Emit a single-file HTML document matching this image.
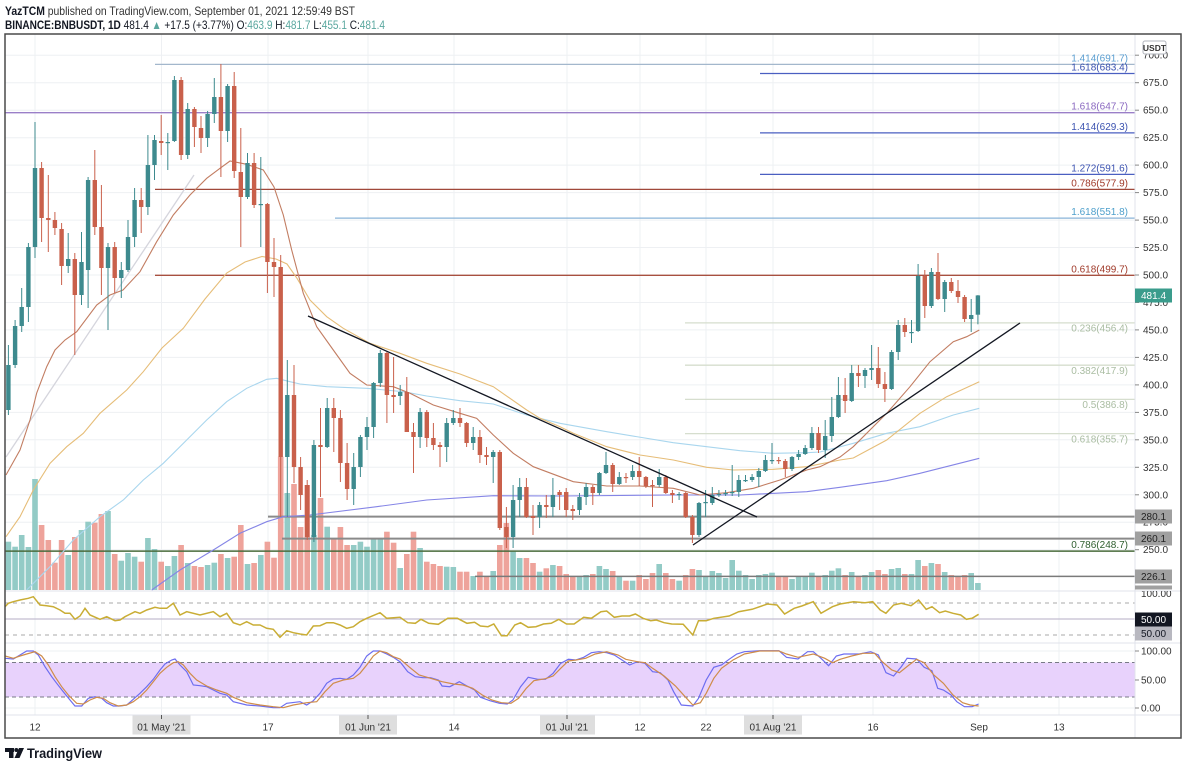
<!DOCTYPE html>
<html><head><meta charset="utf-8"><style>
html,body{margin:0;padding:0;background:#fff;width:1186px;height:768px;overflow:hidden}
svg{display:block}
</style></head><body>
<svg id="root" width="1186" height="768" viewBox="0 0 1186 768" xmlns="http://www.w3.org/2000/svg" font-family="'Liberation Sans', 'DejaVu Sans', sans-serif">
<defs>
<clipPath id="mp"><rect x="5" y="34" width="1130" height="557"/></clipPath>
<clipPath id="rp"><rect x="5" y="591" width="1130" height="52"/></clipPath>
<clipPath id="sp"><rect x="5" y="643" width="1130" height="72"/></clipPath>
<clipPath id="ax"><rect x="1135" y="591" width="46" height="124"/></clipPath>
</defs>
<rect width="1186" height="768" fill="#fff"/>

<!-- header -->
<text x="5" y="15" font-size="12" fill="#333" textLength="350" lengthAdjust="spacingAndGlyphs"><tspan font-weight="bold" fill="#131722">YazTCM</tspan> published on TradingView.com, September 01, 2021 12:59:49 BST</text>
<text x="5" y="29" font-size="12" fill="#131722" textLength="380" lengthAdjust="spacingAndGlyphs"><tspan font-weight="bold">BINANCE:BNBUSDT, 1D</tspan> 481.4 <tspan fill="#5aa79f">▲</tspan> +17.5 (+3.77%) O:<tspan fill="#5aa79f">463.9</tspan> H:<tspan fill="#5aa79f">481.7</tspan> L:<tspan fill="#5aa79f">455.1</tspan> C:<tspan fill="#5aa79f">481.4</tspan></text>

<!-- grid -->
<g id="grid" stroke="#eef0f3" stroke-width="1"></g>

<!-- main pane -->
<g clip-path="url(#mp)">
  <g id="vol"></g>
  <g stroke-width="1.3">
    <line x1="155" y1="64.4" x2="1135" y2="64.4" stroke="#a3b7cc"/>
    <line x1="760" y1="73.5" x2="1135" y2="73.5" stroke="#4a5fc1"/>
    <line x1="5" y1="112.7" x2="1135" y2="112.7" stroke="#9a7fc8"/>
    <line x1="760" y1="132.9" x2="1135" y2="132.9" stroke="#4a5fc1"/>
    <line x1="760" y1="174.4" x2="1135" y2="174.4" stroke="#4a5fc1"/>
    <line x1="155" y1="189.4" x2="1135" y2="189.4" stroke="#a0483a"/>
    <line x1="335" y1="218.1" x2="1135" y2="218.1" stroke="#8ab4d8"/>
    <line x1="155" y1="275.3" x2="1135" y2="275.3" stroke="#a85040"/>
    <line x1="685" y1="322.9" x2="1135" y2="322.9" stroke="#d6dece"/>
    <line x1="685" y1="365.2" x2="1135" y2="365.2" stroke="#d6dece"/>
    <line x1="685" y1="399.4" x2="1135" y2="399.4" stroke="#d6dece"/>
    <line x1="685" y1="433.6" x2="1135" y2="433.6" stroke="#d6dece"/>
    <line x1="268" y1="516.6" x2="1135" y2="516.6" stroke="#8a8a8a" stroke-width="2"/>
    <line x1="282" y1="538.6" x2="1135" y2="538.6" stroke="#8a8a8a" stroke-width="2"/>
    <line x1="5" y1="551.1" x2="1135" y2="551.1" stroke="#4a6b3c" stroke-width="1.5"/>
    <line x1="475" y1="576.4" x2="1135" y2="576.4" stroke="#7a7a7a" stroke-width="1.5"/>
  </g>
  <g font-size="10" text-anchor="end">
    <text x="1128" y="61.4" fill="#5b9ed0">1.414(691.7)</text>
    <text x="1128" y="70.5" fill="#3b52b0">1.618(683.4)</text>
    <text x="1128" y="109.7" fill="#8a68c0">1.618(647.7)</text>
    <text x="1128" y="129.9" fill="#3b52b0">1.414(629.3)</text>
    <text x="1128" y="171.4" fill="#3b52b0">1.272(591.6)</text>
    <text x="1128" y="186.4" fill="#a03a2a">0.786(577.9)</text>
    <text x="1128" y="215.1" fill="#4fa0cc">1.618(551.8)</text>
    <text x="1128" y="272.3" fill="#a03a2a">0.618(499.7)</text>
    <text x="1128" y="331.5" fill="#aabda2">0.236(456.4)</text>
    <text x="1128" y="374" fill="#aabda2">0.382(417.9)</text>
    <text x="1128" y="408" fill="#aabda2">0.5(386.8)</text>
    <text x="1128" y="442.5" fill="#aabda2">0.618(355.7)</text>
    <text x="1128" y="548.1" fill="#2e5e2e">0.786(248.7)</text>
  </g>
  <g id="mas" fill="none"></g>
  <g id="wk"></g>
  <g id="bd"></g>
  <g stroke="#131722" stroke-width="1.3">
    <line x1="308" y1="316" x2="757" y2="517"/>
    <line x1="693" y1="545" x2="1020" y2="323"/>
  </g>
</g>

<!-- RSI pane -->
<g clip-path="url(#rp)">
  <line x1="5" y1="603" x2="1135" y2="603" stroke="#a9a9a9" stroke-dasharray="4 4"/>
  <line x1="5" y1="635" x2="1135" y2="635" stroke="#a9a9a9" stroke-dasharray="4 4"/>
  <line x1="5" y1="619" x2="1135" y2="619" stroke="#b6aec6"/>
  <polyline id="rsi" fill="none" stroke="#c9ad35" stroke-width="1.5"/>
</g>

<!-- Stoch RSI pane -->
<g clip-path="url(#sp)">
  <rect x="5" y="662.5" width="1130" height="34.5" fill="#e8d2fc"/>
  <line x1="5" y1="662.5" x2="1135" y2="662.5" stroke="#787b86" stroke-dasharray="4 3"/>
  <line x1="5" y1="697" x2="1135" y2="697" stroke="#787b86" stroke-dasharray="4 3"/>
  <polyline id="sk" fill="none" stroke="#6d6df0" stroke-width="1.2"/>
  <polyline id="sd" fill="none" stroke="#cf8c4a" stroke-width="1.2"/>
</g>

<!-- separators -->
<g stroke="#e0e3eb" stroke-width="1">
  <line x1="5" y1="591" x2="1181" y2="591"/>
  <line x1="5" y1="643" x2="1181" y2="643"/>
  <line x1="5" y1="715" x2="1181" y2="715"/>
  <line x1="1135" y1="34" x2="1135" y2="738"/>
</g>

<!-- price axis -->
<g font-size="10" fill="#333">
  <g stroke="#888">
    <line x1="1135" y1="55.2" x2="1139" y2="55.2"/><line x1="1135" y1="82.7" x2="1139" y2="82.7"/>
    <line x1="1135" y1="110.2" x2="1139" y2="110.2"/><line x1="1135" y1="137.7" x2="1139" y2="137.7"/>
    <line x1="1135" y1="165.1" x2="1139" y2="165.1"/><line x1="1135" y1="192.6" x2="1139" y2="192.6"/>
    <line x1="1135" y1="220.1" x2="1139" y2="220.1"/><line x1="1135" y1="247.5" x2="1139" y2="247.5"/>
    <line x1="1135" y1="275" x2="1139" y2="275"/><line x1="1135" y1="302.5" x2="1139" y2="302.5"/>
    <line x1="1135" y1="329.9" x2="1139" y2="329.9"/><line x1="1135" y1="357.4" x2="1139" y2="357.4"/>
    <line x1="1135" y1="384.9" x2="1139" y2="384.9"/><line x1="1135" y1="412.4" x2="1139" y2="412.4"/>
    <line x1="1135" y1="439.8" x2="1139" y2="439.8"/><line x1="1135" y1="467.3" x2="1139" y2="467.3"/>
    <line x1="1135" y1="494.8" x2="1139" y2="494.8"/><line x1="1135" y1="522.2" x2="1139" y2="522.2"/>
    <line x1="1135" y1="549.7" x2="1139" y2="549.7"/>
  </g>
  <text x="1143" y="58.7">700.0</text>
  <text x="1143" y="86.2">675.0</text>
  <text x="1143" y="113.7">650.0</text>
  <text x="1143" y="141.2">625.0</text>
  <text x="1143" y="168.6">600.0</text>
  <text x="1143" y="196.1">575.0</text>
  <text x="1143" y="223.6">550.0</text>
  <text x="1143" y="251">525.0</text>
  <text x="1143" y="278.5">500.0</text>
  <text x="1143" y="306">475.0</text>
  <text x="1143" y="333.4">450.0</text>
  <text x="1143" y="360.9">425.0</text>
  <text x="1143" y="388.4">400.0</text>
  <text x="1143" y="415.9">375.0</text>
  <text x="1143" y="443.3">350.0</text>
  <text x="1143" y="470.8">325.0</text>
  <text x="1143" y="498.3">300.0</text>
  <text x="1143" y="525.7">275.0</text>
  <text x="1143" y="553.2">250.0</text>
</g>
<g font-size="10">
  <rect x="1143" y="41" width="23" height="13" rx="2" fill="#fff" stroke="#b2b5be"/>
  <text x="1154.5" y="51" font-size="8.5" font-weight="bold" fill="#333" text-anchor="middle">USDT</text>
  <rect x="1135" y="288.5" width="37" height="14" fill="#3a9c8c"/>
  <text x="1141" y="299" fill="#fff">481.4</text>
  <rect x="1135" y="509.5" width="37" height="14" fill="#a0a0a0"/>
  <text x="1141" y="520" fill="#222">280.1</text>
  <rect x="1135" y="531.5" width="37" height="14" fill="#a0a0a0"/>
  <text x="1141" y="542" fill="#222">260.1</text>
  <rect x="1135" y="569.5" width="37" height="14" fill="#a0a0a0"/>
  <text x="1141" y="580" fill="#222">226.1</text>
  <rect x="1135" y="585.5" width="37" height="4" fill="#a0a0a0"/>
  <g clip-path="url(#ax)">
    <text x="1141" y="597" fill="#333">100.00</text>
  </g>
  <line x1="1135" y1="619.5" x2="1139" y2="619.5" stroke="#555"/>
  <rect x="1135" y="612.5" width="37" height="14" fill="#131722"/>
  <text x="1141" y="623" fill="#fff">50.00</text>
  <rect x="1135" y="626.5" width="37" height="14" fill="#b8b8c0"/>
  <text x="1141" y="637" fill="#131722">50.00</text>
  <line x1="1135" y1="651" x2="1139" y2="651" stroke="#888"/>
  <text x="1141" y="654.5" fill="#333">100.00</text>
  <line x1="1135" y1="680" x2="1139" y2="680" stroke="#888"/>
  <text x="1141" y="683.5" fill="#333">50.00</text>
  <line x1="1135" y1="708" x2="1139" y2="708" stroke="#888"/>
  <text x="1141" y="711.5" fill="#333">0.00</text>
</g>

<!-- time axis -->
<g font-size="10" fill="#333" text-anchor="middle">
  <rect x="132.5" y="715.5" width="58" height="19" fill="#dedede"/>
  <rect x="339" y="715.5" width="58" height="19" fill="#dedede"/>
  <rect x="540" y="715.5" width="55" height="19" fill="#dedede"/>
  <rect x="744" y="715.5" width="58" height="19" fill="#dedede"/>
  <g stroke="#555"><line x1="161.5" y1="715" x2="161.5" y2="719"/><line x1="368" y1="715" x2="368" y2="719"/><line x1="567" y1="715" x2="567" y2="719"/><line x1="773" y1="715" x2="773" y2="719"/></g>
  <text x="35" y="730.5">12</text>
  <text x="161.5" y="730.5">01 May '21</text>
  <text x="268" y="730.5">17</text>
  <text x="368" y="730.5">01 Jun '21</text>
  <text x="454" y="730.5">14</text>
  <text x="567" y="730.5">01 Jul '21</text>
  <text x="640" y="730.5">12</text>
  <text x="706" y="730.5">22</text>
  <text x="773" y="730.5">01 Aug '21</text>
  <text x="873" y="730.5">16</text>
  <text x="979" y="730.5">Sep</text>
  <text x="1059" y="730.5">13</text>
</g>

<!-- frame -->
<rect x="5" y="34" width="1176" height="704" fill="none" stroke="#4a4a4a" stroke-width="1.5"/>

<!-- logo -->
<g fill="#131722">
  <rect x="5" y="748" width="9" height="4"/>
  <rect x="9" y="748" width="4.5" height="10"/>
  <circle cx="16.3" cy="750" r="2"/>
  <polygon points="19,748 24,748 19.5,758 14.5,758"/>
  <text x="27" y="758" font-size="14" font-weight="bold" textLength="75" lengthAdjust="spacingAndGlyphs">TradingView</text>
</g>
</svg>

<script>
(function(){
var NS='http://www.w3.org/2000/svg';
function el(parent,tag,attrs){var e=document.createElementNS(NS,tag);for(var k in attrs){e.setAttribute(k,attrs[k]);}parent.appendChild(e);return e;}
var Y=function(p){return 275+(500-p)*1.0988;};
var X=function(d){return 35+6.64*d;};
var C=[
[410,365,345,415],[365,326,320,368],[326,307,288,332],[307,247,243,322],[247,168,122,258],
[168,218,162,242],[218,220,175,252],[220,228,212,235],[229,266,223,285],[266,259,233,273],
[259,295,253,355],[295,262,232,305],[270,180,177,308],[180,227,150,235],[227,268,185,295],
[268,247,243,330],[247,278,242,293],[278,270,262,298],[270,237,220,272],[237,200,188,247],
[200,207,188,233],[207,165,135,215],[165,140,135,180],[141,143,115,155],[143,142,133,170],
[141,80,76,142],[80,155,77,160],[155,109,103,159],[109,127,107,147],[128,138,116,153],
[138,114,111,147],[114,97,78,123],[97,131,64,177],[131,86,84,142],[86,171,72,178],
[172,197,128,247],[197,163,153,199],[163,205,153,208],[205,204,157,247],[204,262,203,293],
[262,267,238,297],[267,457,255,517],[457,395,360,517],[395,467,365,483],[467,495,457,510],
[485,537,480,540],[537,445,440,542],[445,447,408,497],[447,408,398,448],[408,418,398,452],
[418,463,410,482],[463,489,443,500],[489,467,453,505],[467,437,435,477],[437,427,417,450],
[427,383,382,438],[383,353,350,387],[353,395,352,423],[395,397,357,413],[396,392,385,405],
[392,432,377,432],[432,437,423,473],[437,412,408,448],[412,438,410,447],[438,445,423,450],
[445,447,442,467],[447,423,418,462],[423,418,410,425],[418,423,408,427],[423,443,422,447],
[443,437,427,450],[437,455,430,463],[455,457,447,465],[457,452,450,483],[452,528,450,530],
[527,537,507,548],[537,500,485,548],[500,487,478,517],[487,517,478,518],[516,518,505,535],
[517,505,502,528],[505,507,495,518],[507,495,478,517],[492,495,490,510],[492,510,488,517],
[509,511,505,520],[510,497,493,515],[497,487,483,505],[487,493,485,505],[493,473,472,495],
[473,465,452,474],[465,484,463,492],[484,477,472,485],[477,478,473,483],[477,471,465,480],
[471,477,457,486],[477,486,476,488],[485,486,480,507],[485,477,469,487],[477,493,475,494],
[493,495,490,503],[495,494,492,500],[493,517,492,518],[517,535,515,543],[535,503,502,537],
[503,502,490,517],[503,495,487,505],[495,494,490,497],[494,493,490,496],[493,492,465,496],
[492,480,475,497],[480,480,475,482],[480,477,474,482],[477,471,468,487],[471,460,455,472],
[460,460,443,464],[460,461,457,464],[461,469,459,477],[469,457,456,471],[457,454,450,460],
[454,448,445,455],[448,433,427,450],[433,450,427,453],[450,436,420,458],[436,417,397,442],
[417,395,377,418],[395,401,378,413],[401,373,365,402],[373,376,365,387],[376,370,368,388],
[370,368,345,380],[368,384,347,388],[384,389,372,402],[389,352,350,390],[352,325,320,360],
[325,332,318,337],[332,332,320,343],[331,276,264,332],[276,306,270,318],[306,272,268,308],
[272,299,253,300],[299,282,280,312],[282,291,278,293],[291,297,280,303],[297,319,295,322],
[319,315,299,332],[314.7,295.4,295.1,324.3]];
var V=[541.7,546.7,535,547,479,525,540,562.7,540,555,537,530,521.7,522.7,514,511,554,560.7,553,556.7,561.7,538,549,561.7,566,556,545,563,566,567,565,562.7,554,558,556.7,525,564,563,555,541.7,557.7,456.7,493,484,527,485,535,498,526.7,539,527,545,545,541.7,546.7,538,538,531.7,542.7,568,554,531.7,548,561.7,564,566,566.7,567,571.7,571.7,576,571.7,576,571,545,523,551.7,558,558,563,571.7,568.3,565,566,574,576.7,577,575,574,566,569,571,576.7,580.7,580.7,575,579,573,564,573,579,580.7,575,569,570,576.7,571,573,578,560,570.7,575,579,575,574,572.7,577,577,579,576.7,576,572.7,576,575,570.7,568.3,575,572,577,575,572,570,574,569,568,574,574,560,566,563,564,572,575,576,575,573,583];
var gv=document.getElementById('vol'),gw=document.getElementById('wk'),gb=document.getElementById('bd');
C.forEach(function(c,i){var d=i-4,x=X(d),o=c[0],cl=c[1],h=c[2],l=c[3],up=cl<=o;
 var col=up?'#3d8a8e':'#c9604b';
 var vt=V[i]||580;
 el(gv,'rect',{x:(x-2.8).toFixed(1),y:vt,width:5.6,height:(590-vt).toFixed(1),fill:(up?'#93cbc6':'#eea39b')});
 el(gw,'line',{x1:x.toFixed(1),x2:x.toFixed(1),y1:h,y2:l,stroke:col,'stroke-width':1});
 el(gb,'rect',{x:(x-2.2).toFixed(1),y:Math.min(o,cl),width:4.4,height:Math.max(Math.abs(o-cl),1.2),fill:col});
});
function pts(a){return a.map(function(p){return p[0]+','+p[1];}).join(' ');}
var MA20=[[6,475],[20,450],[30,420],[36.7,393],[46.7,366.7],[55,350],[65,340],[76.7,331.7],[96.7,305],[110,295],[123,290],[140,271.7],[156.7,241.7],[173.3,215],[190,195],[206.7,178.3],[220,168.3],[230,161],[246.7,164.3],[263.3,170],[274,187],[283.3,215],[291.7,250],[303.3,293.3],[316.7,326.7],[333.3,350],[350,373.3],[366.7,385],[393.3,386.7],[410,393.3],[433.3,405],[460,413.3],[476.7,418.3],[493.3,435],[513.3,453.3],[533.3,466.7],[560,476.7],[573.3,481.7],[606.7,486],[640,486],[673.3,488.3],[700,495],[726.7,492.7],[753.3,488.3],[780,480],[806.7,470],[820,466.7],[840,457],[853.3,446.7],[886.7,413.3],[910,386.7],[930,361.7],[953.3,341.7],[966.7,336.7],[979.3,330]];
var MA50=[[6,536.7],[20,516.7],[33.3,490],[50,463.3],[66.7,446.7],[83.3,433.3],[100,413.3],[126.7,390],[143.3,371.7],[162,348],[183.3,328.3],[205,299],[226.7,273],[245,262],[262,256.5],[276,259],[287,264],[297,278.3],[310,300],[326.7,316.7],[343.3,328.3],[370,343.3],[400,353.3],[426.7,363.3],[460,374],[493.3,386.7],[526.7,410],[540,418.3],[560,426.7],[573.3,433.3],[606.7,446.7],[640,455],[673.3,460],[706.7,467.3],[733.3,470],[773.3,469.3],[806.7,466.7],[840,460],[853.3,458],[886.7,440],[920,413.3],[946.7,396.7],[979.3,381.7]];
var MA100=[[26.7,590],[50,566.7],[73.3,540],[100,516.7],[123.3,500],[143.3,480],[163.3,463.3],[186.7,440],[206.7,420],[226.7,401.7],[246.7,388.3],[266.7,379.3],[276.7,378.3],[290,381.7],[300,384],[326.7,386.7],[366.7,388.3],[403.3,391.7],[426.7,396],[460,400.7],[493.3,404],[526.7,415],[560,423.3],[606.7,431.7],[673.3,442.7],[740,450.7],[773.3,453.3],[806.7,452.7],[820,452],[853.3,443.3],[886.7,433.3],[920,426.7],[953.3,415],[979.3,408.3]];
var MA200=[[151.7,590],[180,570],[213.3,550],[240,533.3],[266.7,521.7],[283.3,516.7],[310,515],[376.7,506.7],[426.7,500],[493.3,495.7],[560,496],[673.3,495],[740,495],[806.7,491.7],[840,487.3],[886.7,480.7],[920,473.3],[979.3,458.3]];
var gm=document.getElementById('mas');
el(gm,'polyline',{points:'6,457 194,175',stroke:'#d4d4dc','stroke-width':1.3,fill:'none'});
el(gm,'polyline',{points:pts(MA200),stroke:'#8585e6','stroke-width':1.1,fill:'none'});
el(gm,'polyline',{points:pts(MA100),stroke:'#a9d6ee','stroke-width':1.1,fill:'none'});
el(gm,'polyline',{points:pts(MA50),stroke:'#e6bd78','stroke-width':1.1,fill:'none'});
el(gm,'polyline',{points:pts(MA20),stroke:'#c27d62','stroke-width':1.1,fill:'none'});
var RSI=[[5,606.7],[8.3,603.3],[13.3,601.7],[20,600],[28.3,598.3],[33.3,596.7],[40,605],[46.7,605.7],[53.3,606.7],[60,610],[65,613.3],[70,613.3],[75,619.3],[80,616],[85,608.3],[90,615],[100,619.3],[106.7,616.7],[115,620.7],[120,620],[125,616.7],[135,611.7],[140,613.3],[146.7,610],[155,607.3],[160,608.3],[166.7,608.3],[173.3,603.3],[180,615],[186.7,611.7],[200,615],[213.3,611.7],[220,616.7],[226.7,613.3],[233.3,622.7],[240,625],[246.7,621.7],[253.3,625],[260,625],[266.7,628.3],[273.3,629.3],[280,637.3],[286.7,630.7],[293.3,632.7],[300,634],[306.7,635],[313.3,626],[320,625.7],[326.7,622.7],[333.3,622.7],[340,625],[346.7,628.3],[353.3,626.7],[360,621.7],[366.7,618.3],[380,612.7],[386.7,618.3],[400,617.3],[407.7,622.7],[415.3,623.3],[421,619.3],[428.7,623.3],[438.3,624.3],[447.8,618.3],[457.4,618.3],[467,623.3],[474.6,622.3],[480.4,626],[488,626.7],[493.8,624],[501.4,635.7],[507.2,635.7],[514.8,625],[520.6,622.7],[528.2,627.3],[535.9,626.7],[543.5,624],[551.2,623.3],[558.8,619.3],[566.5,624],[574.1,624],[583.7,617.3],[591.4,618.3],[600.9,611.7],[606.7,611],[614.3,617.3],[622,616],[629.6,616],[635.4,614],[643,618.3],[650.7,620.7],[656.4,620],[664.1,622.7],[671.7,624],[683.2,624.3],[692.8,635],[698.5,620.7],[706.2,620.7],[713.8,618.3],[729.1,616],[738.7,611.7],[752.1,609.3],[767.4,604],[777,605],[784.6,614],[794.2,608.3],[801.8,606],[813.3,601.7],[821,613.3],[832.5,606.7],[840.1,604],[853.5,601.7],[865,602.7],[872.7,601.7],[880.3,610],[885.9,613.3],[893.6,605],[901.3,603.3],[911,605.7],[918.6,600],[926.2,609.3],[932,606.7],[939.6,612.7],[945.3,611],[953,613.3],[960.7,615],[966.4,619.3],[972.1,618.3],[978.6,614.3]];
var SK=[[5,658.3],[13.3,659],[20,655],[26.7,651],[33.3,651],[38.3,655],[45,666.7],[51.7,676.7],[56.7,683.3],[63.3,691.7],[70,700],[75,706],[81.7,706],[88.3,698.3],[95,696.7],[101.7,698.3],[106.7,702.7],[113.3,706],[120,706],[126.7,705],[131.7,700.7],[140,693.3],[146.7,686.7],[153.3,679.3],[160,670],[165,664],[171.7,660],[175,659],[180,665],[186.7,671.7],[193.3,685],[200,685.7],[206.7,686.7],[213.3,690],[220,693.3],[226.7,695],[233.3,701.7],[246.7,705],[260,706],[273.3,707.7],[280,707.7],[286.7,703.3],[300,701.7],[306.7,705],[313.3,700.7],[320,693.3],[326.7,683.3],[333.3,679],[340,678.3],[346.7,679.3],[353.3,675],[360,667.3],[366.7,656],[373.3,651],[380,651],[386.7,654],[393.3,657.3],[400,661.7],[407.7,671.7],[415.3,676.7],[423,677.7],[430.6,677.7],[438.3,680],[442.1,686],[449.8,686.7],[459.3,681.7],[467,686],[474.6,690],[480.4,697.3],[489.9,700.7],[499.5,703.3],[507.2,704],[512.9,700],[520.6,686.7],[528.2,677.3],[537.8,679.3],[545.4,679.3],[553.1,673.3],[560.7,663.3],[568.4,659.3],[576,660],[583.7,657.3],[591.4,652.7],[599,651.7],[606.7,652.7],[614.3,655],[622,660],[629.6,665],[637.3,661.7],[644.9,663.3],[652.6,671.7],[660.2,672.7],[667.9,680],[673.6,691.7],[681.3,705],[692.8,706],[698.5,698.3],[706.2,680],[713.8,667.3],[721.5,665],[729.1,659.3],[736.8,654],[744.4,651.7],[759.7,650.7],[778.9,650.7],[786.5,657.3],[798,659],[807.6,651.7],[813.3,651.7],[821,658.3],[828.6,665.7],[836.3,656],[843.9,654],[859.2,654],[870.7,651.7],[878.4,655],[886,672.7],[893.6,676],[901.3,666.7],[907.1,658.3],[916.6,659],[924.2,667.3],[931.9,670.7],[937.7,688.3],[943.4,690],[951.1,695],[956.8,701.7],[964.5,706.7],[972.1,706.7],[978.6,704]];
var SD=[[5,656],[13.3,658.3],[20,656],[26.7,654],[35,651.7],[41.7,656],[48.3,665],[55,676.7],[61.7,686.7],[68.3,695],[76.7,703.3],[83.3,704],[90,700],[96.7,697.3],[103.3,698.3],[110,702.7],[118.3,706],[126.7,705],[133.3,701.7],[140,696.7],[146.7,690],[153.3,681.7],[160,673.3],[166.7,667.3],[173.3,662.7],[178.3,661.7],[183.3,665],[190,673.3],[196.7,680],[206.7,686],[216.7,690],[226.7,693.3],[233.3,697.3],[246.7,702.7],[260,705],[273.3,706.7],[283.3,707.7],[293.3,705],[306.7,702.7],[316.7,701.7],[325,691.7],[333.3,683.3],[343.3,680],[353.3,678.3],[360,673.3],[366.7,665],[373.3,656],[380,651],[386.7,652.7],[393.3,656.7],[400,659],[409.6,667.3],[419.1,675],[430.6,678.3],[442.1,681.7],[453.6,684],[463.1,685],[472.7,688.3],[482.3,695],[491.8,700],[501.4,702.7],[511,703.3],[518.6,698.3],[526.3,688.3],[533.9,680.7],[545.4,678.7],[553.1,676],[560.7,668.3],[568.4,661],[576,660],[585.6,658.3],[595.2,654],[606.7,651.7],[618.1,655],[625.8,659.3],[637.3,661.7],[644.9,662.7],[652.6,668.3],[664.1,676],[675.5,686],[685.1,696.7],[692.8,705],[700.4,702.7],[706.2,693.3],[713.8,678.3],[721.5,668.3],[733,660],[744.4,654],[759.7,651],[778.9,651],[786.5,654],[798,657.3],[813.3,654],[824.8,658.3],[832.5,662.7],[840.1,659.3],[851.6,656],[863.1,653.3],[874.6,653.3],[882.2,661.7],[891.8,670],[899.4,672.7],[909,665],[916.6,659.3],[924.2,662.7],[933.8,675],[943.4,683.3],[953,695],[962.6,702.7],[970.2,705],[978.6,706]];
document.getElementById('rsi').setAttribute('points',pts(RSI));
document.getElementById('sk').setAttribute('points',pts(SK));
document.getElementById('sd').setAttribute('points',pts(SD));
var gg=document.getElementById('grid');
[35,161.5,268,368,454,567,640,706,773,873,979,1059].forEach(function(x){el(gg,'line',{x1:x,y1:34,x2:x,y2:715});});
for(var p=250;p<=700;p+=25){var y=Y(p).toFixed(1);el(gg,'line',{x1:5,y1:y,x2:1135,y2:y});}
[651,680,708].forEach(function(y){el(gg,'line',{x1:5,y1:y,x2:1135,y2:y});});
})();
</script>
</body></html>
